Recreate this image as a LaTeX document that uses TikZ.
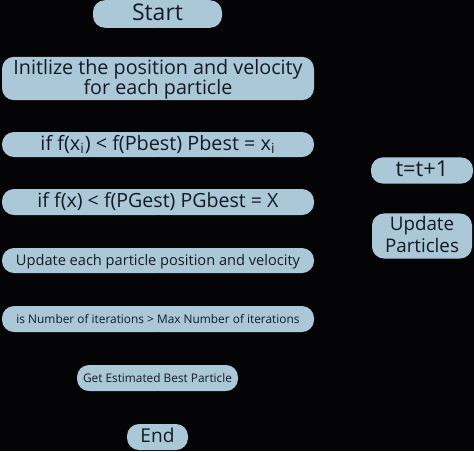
\documentclass[tikz,border=0pt]{standalone}
\usepackage{fontspec}
\setmainfont{Open Sans}
\usetikzlibrary{arrows.meta}
\definecolor{boxblue}{RGB}{170,200,216}
\definecolor{txt}{RGB}{20,26,36}
\definecolor{bg}{RGB}{4,4,6}
\newcommand{\fitw}[2]{\raisebox{-1.2pt}[\height][\depth]{\resizebox{#1}{!}{\begin{tabular}{@{}c@{}}#2\end{tabular}}}}
\begin{document}
\begin{tikzpicture}[x=1pt,y=-1pt,
  box/.style={fill=boxblue,draw=none,rounded corners=12pt,text=txt,inner sep=0pt,align=center},
  conn/.style={draw=bg,line width=0.8pt,-{Stealth[length=4pt]}}]
\fill[bg] (0,0) rectangle (474,451);
\useasboundingbox (0,0) rectangle (474,451);
\node[box,minimum width=129pt,minimum height=25pt] (start) at (157.5,14) {\fitw{51pt}{Start}};
\node[box,minimum width=312pt,minimum height=41pt] (init) at (158,78.5) {\fitw{289pt}{Initlize the position and velocity\\[-2pt]for each particle}};
\node[box,minimum width=312pt,minimum height=25pt] (pb) at (158,144.5) {\fitw{235pt}{if f(x\textsubscript{i}) < f(Pbest) Pbest = x\textsubscript{i}}};
\node[box,minimum width=312pt,minimum height=26pt] (pg) at (158,202) {\fitw{241pt}{if f(x) < f(PGest) PGbest = X}};
\node[box,minimum width=312pt,minimum height=25pt] (upd) at (158,260.5) {\fitw{284pt}{Update each particle position and velocity}};
\node[box,minimum width=312pt,minimum height=26pt] (iter) at (158,319) {\fitw{283pt}{is Number of iterations > Max Number of iterations}};
\node[box,minimum width=161pt,minimum height=26pt] (get) at (157.5,378) {\fitw{149pt}{Get Estimated Best Particle}};
\node[box,minimum width=61pt,minimum height=26pt] (end) at (157.5,437) {\fitw{34pt}{End}};
\node[box,minimum width=102pt,minimum height=24pt] (tt) at (422,170.5) {\fitw{53pt}{t=t+1}};
\node[box,minimum width=100pt,minimum height=40pt] (up) at (422,236) {\fitw{74pt}{Update\\[0pt]Particles}};
\draw[conn] (start) -- (init);
\draw[conn] (init) -- (pb);
\draw[conn] (pb) -- (pg);
\draw[conn] (pg) -- (upd);
\draw[conn] (upd) -- (iter);
\draw[conn] (iter) -- (get);
\draw[conn] (get) -- (end);
\end{tikzpicture}
\end{document}
